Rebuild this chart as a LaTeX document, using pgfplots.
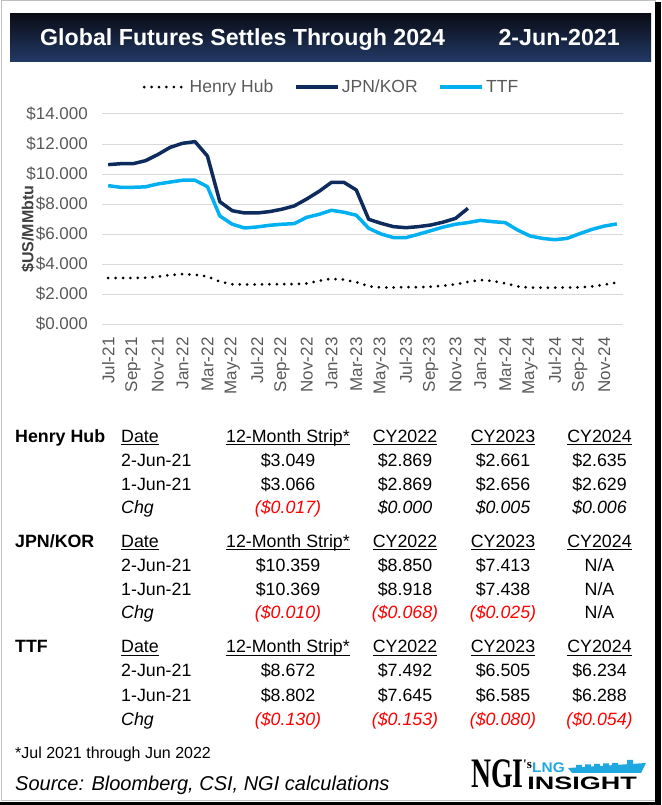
\documentclass[border=0pt]{standalone}
\usepackage{fontspec}
\setmainfont{Liberation Sans}
\newfontfamily\logoserif{Liberation Serif}
\usepackage{pgfplots}
\pgfplotsset{compat=1.18}
\usepackage{pgfplotstable}

\definecolor{jk}{HTML}{0E2B5E}
\definecolor{ttf}{HTML}{00B0F0}
\definecolor{gridc}{HTML}{D9D9D9}
\definecolor{txt}{HTML}{595959}
\definecolor{barT}{HTML}{0A0C16}
\definecolor{barB}{HTML}{223A66}
\definecolor{neg}{HTML}{FF0000}
\definecolor{logob}{HTML}{1FA8E0}

% monthly settles, m = months after Jul-21
\pgfplotstableread{
m hh jk ttf
0 3.08 10.63 9.23
1 3.08 10.69 9.12
2 3.09 10.69 9.12
3 3.10 10.89 9.15
4 3.17 11.30 9.34
5 3.28 11.78 9.47
6 3.34 12.05 9.59
7 3.30 12.16 9.59
8 3.18 11.20 9.16
9 2.84 8.16 7.21
10 2.66 7.56 6.66
11 2.65 7.41 6.41
12 2.65 7.41 6.48
13 2.66 7.50 6.59
14 2.67 7.66 6.66
15 2.68 7.88 6.70
16 2.72 8.34 7.12
17 2.90 8.85 7.32
18 3.03 9.45 7.59
19 2.98 9.45 7.46
20 2.80 8.94 7.26
21 2.53 6.99 6.39
22 2.45 6.72 6.01
23 2.45 6.50 5.77
24 2.47 6.43 5.77
25 2.47 6.50 5.99
26 2.50 6.61 6.23
27 2.57 6.80 6.47
28 2.66 7.05 6.66
29 2.82 7.72 6.77
30 2.95 nan 6.92
31 2.88 nan 6.83
32 2.73 nan 6.77
33 2.52 nan 6.28
34 2.44 nan 5.88
35 2.44 nan 5.72
36 2.44 nan 5.63
37 2.45 nan 5.72
38 2.46 nan 6.03
39 2.52 nan 6.32
40 2.64 nan 6.54
41 2.78 nan 6.68
}\prices

\newcommand\tf{\fontsize{17.8}{20}\selectfont}
\newcommand\ul[1]{\setbox0\hbox{#1}\rlap{\rule[-3pt]{\wd0}{1.1pt}}\box0}
\newcommand\negv[1]{\textcolor{neg}{\itshape(\$#1)}}
\newcommand\posv[1]{{\itshape\$#1}}
\newcommand\cells[6]{%
  \node[anchor=base west] at (121,#1) {#2};
  \node at (288,#1) {#3};
  \node at (405,#1) {#4};
  \node at (503,#1) {#5};
  \node at (599.5,#1) {#6};}

\pgfkeys{/pgf/number format/assume math mode=true}

\begin{document}
\begin{tikzpicture}
\path[use as bounding box] (0,0) rectangle (661pt,805pt);

\begin{axis}[
    at={(102pt,480.7pt)}, anchor=south west,
    scale only axis, width=521pt, height=210.3pt,
    xmin=-0.5, xmax=41.5, ymin=0, ymax=14,
    axis line style={draw=none},
    major tick length=0pt,
    ymajorgrids, grid style={gridc, line width=1pt},
    ytick={0,2,...,14},
    yticklabel={\$\pgfmathprintnumber[fixed,fixed zerofill,precision=3]{\tick}},
    xtick={0,2,...,40},
    xticklabels={Jul-21,Sep-21,Nov-21,Jan-22,Mar-22,May-22,Jul-22,Sep-22,Nov-22,Jan-23,Mar-23,May-23,Jul-23,Sep-23,Nov-23,Jan-24,Mar-24,May-24,Jul-24,Sep-24,Nov-24},
    xticklabel style={rotate=90, anchor=east},
    yticklabel style={anchor=east},
    tick label style={font=\fontsize{17}{20}\selectfont, text=txt, inner sep=0pt},
    xticklabel shift=13pt, yticklabel shift=14pt,
    ylabel={\$US/MMbtu},
    ylabel style={at={(axis description cs:-0.142,0.453)}, anchor=center,
        font=\bfseries\fontsize{16}{18}\selectfont, text=black!75},
    legend style={at={(0.4405,1.128)}, anchor=center, draw=none, fill=none,
        font=\fontsize{17.5}{20}\selectfont, text=txt,
        /tikz/every even column/.append style={column sep=19pt}},
    legend columns=3,
    legend image code/.code={\draw[#1] (0pt,0pt) -- (42pt,0pt);},
    clip=false,
]
\addplot[black, line width=3pt, line cap=round, dash pattern=on 0pt off 7.4pt]
    table[x=m, y=hh] {\prices};
\addplot[jk, line width=3.5pt, line join=round] table[x=m, y=jk] {\prices};
\addplot[ttf, line width=3.5pt, line join=round] table[x=m, y=ttf] {\prices};
\legend{Henry Hub, JPN/KOR, TTF}
\end{axis}

\begin{scope}[shift={(0pt,805pt)}, x=1pt, y=-1pt]
  % frame with dark shadow edges
  \draw[black!25, line width=1pt] (1,1) rectangle (655,801);
  \fill[black] (0,802) rectangle (661,805);
  \fill[black] (655,2) rectangle (661,805);
  % title bar
  \shade[top color=barT, bottom color=barB] (10,14) rectangle (651,62);
  \node[anchor=base west, inner sep=0pt, text=white, font=\bfseries\fontsize{23.2}{27}\selectfont]
    at (40,46) {Global Futures Settles Through 2024};
  \node[anchor=base east, inner sep=0pt, text=white, font=\bfseries\fontsize{23.2}{27}\selectfont]
    at (620,46) {2-Jun-2021};

  \begin{scope}[every node/.style={anchor=base, inner sep=0pt, font=\tf}]
    % Henry Hub
    \node[anchor=base west, font=\tf\bfseries] at (15,442.3) {Henry Hub};
    \cells{442.3}{\ul{Date}}{\ul{12-Month Strip*}}{\ul{CY2022}}{\ul{CY2023}}{\ul{CY2024}}
    \cells{466.3}{2-Jun-21}{\$3.049}{\$2.869}{\$2.661}{\$2.635}
    \cells{490.3}{1-Jun-21}{\$3.066}{\$2.869}{\$2.656}{\$2.629}
    \cells{514}{\itshape Chg}{\negv{0.017}}{\posv{0.000}}{\posv{0.005}}{\posv{0.006}}
    % JPN/KOR
    \node[anchor=base west, font=\tf\bfseries] at (15,547.3) {JPN/KOR};
    \cells{547.3}{\ul{Date}}{\ul{12-Month Strip*}}{\ul{CY2022}}{\ul{CY2023}}{\ul{CY2024}}
    \cells{571.3}{2-Jun-21}{\$10.359}{\$8.850}{\$7.413}{N/A}
    \cells{595.3}{1-Jun-21}{\$10.369}{\$8.918}{\$7.438}{N/A}
    \cells{619}{\itshape Chg}{\negv{0.010}}{\negv{0.068}}{\negv{0.025}}{N/A}
    % TTF
    \node[anchor=base west, font=\tf\bfseries] at (15,653) {TTF};
    \cells{653}{\ul{Date}}{\ul{12-Month Strip*}}{\ul{CY2022}}{\ul{CY2023}}{\ul{CY2024}}
    \cells{677}{2-Jun-21}{\$8.672}{\$7.492}{\$6.505}{\$6.234}
    \cells{701.3}{1-Jun-21}{\$8.802}{\$7.645}{\$6.585}{\$6.288}
    \cells{725.3}{\itshape Chg}{\negv{0.130}}{\negv{0.153}}{\negv{0.080}}{\negv{0.054}}
  \end{scope}

  % footer
  \node[anchor=base west, inner sep=0pt, font=\fontsize{16}{18}\selectfont]
    at (15,758.8) {*Jul 2021 through Jun 2022};
  \node[anchor=base west, inner sep=0pt, font=\itshape\fontsize{20}{22}\selectfont]
    at (15,791) {Source: Bloomberg, CSI, NGI calculations};

  % logo
  \node[anchor=base west, inner sep=0pt, xscale=0.66, font=\logoserif\bfseries\fontsize{42}{44}\selectfont]
    at (471,788) {NGI};
  \node[anchor=base west, inner sep=0pt, font=\logoserif\bfseries\fontsize{13}{14}\selectfont]
    at (523,769) {'s};
  \node[anchor=base west, inner sep=0pt, xscale=1.1, text=logob, font=\bfseries\fontsize{14}{15}\selectfont]
    at (532,772.5) {LNG};
  \fill[logob] (568,768) -- (646,763) -- (641,773) -- (572,773) -- cycle;
  \fill[logob] (576,765) rectangle (582,768) (585,764.5) rectangle (591,768)
               (594,764) rectangle (600,768) (603,763.5) rectangle (609,767)
               (612,763) rectangle (618,766.5) (627,760) rectangle (633,765);
  \node[anchor=base west, inner sep=0pt, xscale=1.5, font=\bfseries\fontsize{18}{20}\selectfont]
    at (527,789) {INSIGHT};
\end{scope}
\end{tikzpicture}
\end{document}
